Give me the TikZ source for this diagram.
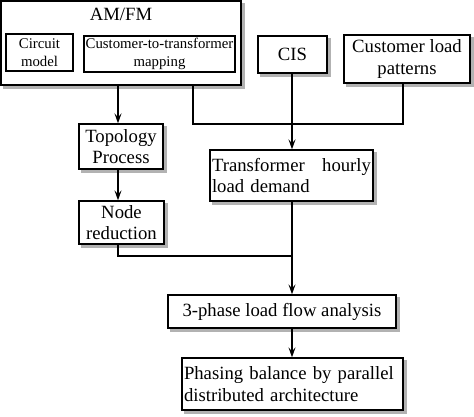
\documentclass[tikz,border=0pt]{standalone}
\usepackage{fontspec}
\setmainfont{Liberation Serif}
\usetikzlibrary{arrows.meta,backgrounds,calc}
\begin{document}
\begin{tikzpicture}[x=1pt,y=-1pt,
  box/.style={draw, line width=1.3pt, fill=white, inner sep=1pt,
    font=\fontsize{18.7}{21.5}\selectfont, align=center},
  small/.style={box, font=\fontsize{14.8}{18}\selectfont},
  shade/.style={fill=gray!60},
  conn/.style={line width=1.3pt},
  arr/.style={conn, -{Stealth[length=10pt,width=7pt,inset=4pt]}}]
\useasboundingbox (0,0) rectangle (474,416);
% boxes
\node[box, minimum width=240pt, minimum height=84pt] (amfm) at (121,43) {};
\node[font=\fontsize{18.7}{21.5}\selectfont] (amfmt) at (121,14) {AM/FM};
\node[small, minimum width=67pt, minimum height=37pt] (circ) at (39.5,52.5) {Circuit\\model};
\node[small, minimum width=151pt, minimum height=36pt] (ctt) at (159.5,54) {Customer-to-transformer\\mapping};
\node[box, minimum width=69pt, minimum height=37pt] (cis) at (292.5,54.5) {CIS};
\node[box, minimum width=126pt, minimum height=48pt] (clp) at (407,59) {Customer load\\patterns};
\node[box, minimum width=84pt, minimum height=45pt] (topo) at (121,146.5) {Topology\\Process};
\node[box, minimum width=85pt, minimum height=43pt] (nred) at (121.5,222.5) {Node\\reduction};
\node[box, minimum width=163pt, minimum height=51pt, text width=159pt, align=left] (trans) at (291.5,175.5) {Transformer\hfill hourly\\load demand};
\node[box, minimum width=228pt, minimum height=33pt] (lf) at (282,311.5) {3-phase load flow analysis};
\node[box, minimum width=221pt, minimum height=52pt, text width=217pt, align=left] (phase) at (292.5,384) {Phasing balance by parallel\\distributed architecture};
% shadows
\begin{scope}[on background layer]
\fill[white] (0,0) rectangle (474,416);
\foreach \n in {amfm,cis,clp,topo,nred,trans,lf,phase}{
  \fill[shade] ($(\n.south west)+(3,3)$) rectangle ($(\n.north east)+(3,3)$);
}
\end{scope}
% helper coordinates
\coordinate (xa) at (118,0);
\coordinate (xb) at (193,0);
\coordinate (xc) at (292,0);
\coordinate (xd) at (403,0);
\coordinate (ya) at (0,124);
\coordinate (yb) at (0,256);
% connectors
\draw[arr] (amfm.south -| xa) -- (topo.north -| xa);
\draw[arr] (topo.south -| xa) -- (nred.north -| xa);
\draw[conn] (amfm.south -| xb) |- (xc |- ya);
\draw[conn] (clp.south -| xd) |- (xc |- ya);
\draw[arr] (cis.south -| xc) -- (trans.north -| xc);
\draw[conn] (nred.south -| xa) |- (xc |- yb);
\draw[arr] (trans.south -| xc) -- (lf.north -| xc);
\draw[arr] (lf.south -| xc) -- (phase.north -| xc);
\end{tikzpicture}
\end{document}
